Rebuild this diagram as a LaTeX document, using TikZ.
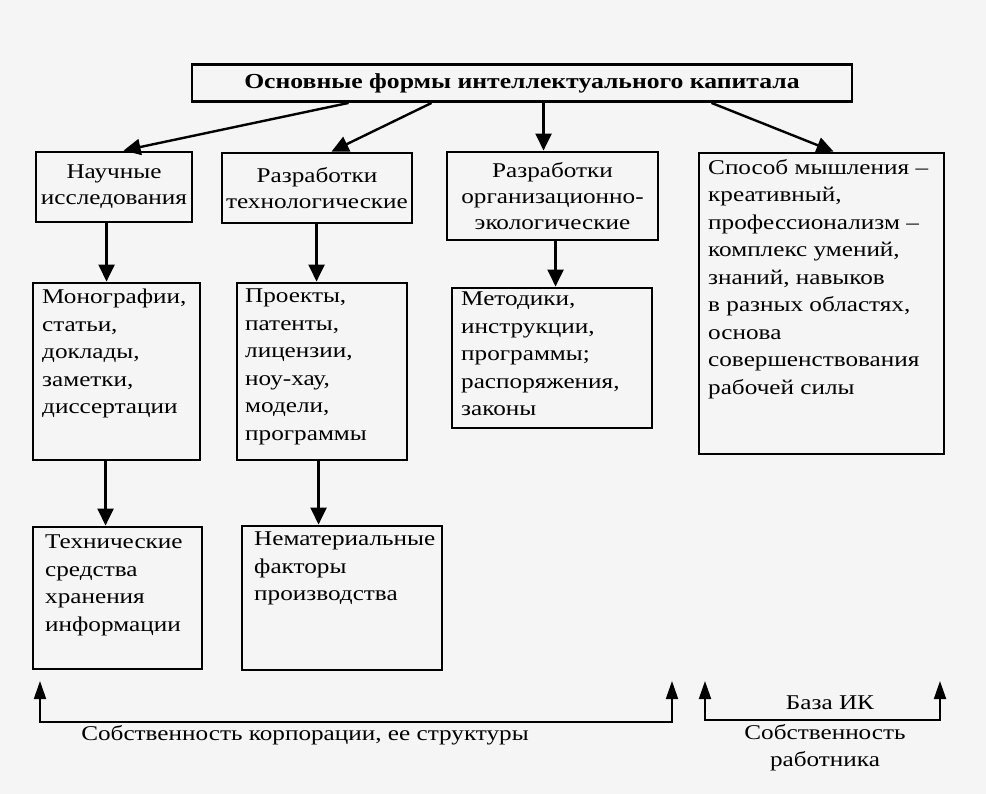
\documentclass[tikz,border=0pt]{standalone}
\usepackage{fontspec}
\setmainfont{Liberation Serif}[FakeStretch=1.2]
\usetikzlibrary{arrows.meta}
\definecolor{bg}{RGB}{245,245,245}
\begin{document}
\begin{tikzpicture}[x=1pt,y=-1pt,
  box/.style={draw, line width=2.9pt, inner sep=0pt, fill=bg},
  ctxt/.style={align=center, font=\fontsize{21}{26}\selectfont},
  txt/.style={inner sep=0pt, anchor=north west, align=left, font=\fontsize{21}{27.5}\selectfont},
  arr/.style={line width=2.4pt, -{Triangle[length=17pt,width=16pt]}},
  brk/.style={line width=1.9pt, {Triangle[length=18pt,width=12pt]}-{Triangle[length=18pt,width=12pt]}},
  lbl/.style={font=\fontsize{21}{27}\selectfont, inner sep=0pt}
]
\fill[bg] (0,0) rectangle (986,794);
\useasboundingbox (0,0) rectangle (986,794);

% top box
\node[box, minimum width=660pt, minimum height=37pt, font=\fontsize{21.4}{25}\selectfont\bfseries] (top) at (522,83) {Основные формы интеллектуального капитала};

% first row
\node[box, minimum width=156pt, minimum height=70pt, ctxt] (nauch) at (114,187) {Научные\\исследования};
\node[box, minimum width=190pt, minimum height=70pt, ctxt] (tech) at (317,188) {Разработки\\технологические};
\node[box, minimum width=211pt, minimum height=88pt, ctxt] (org) at (552.5,196) {Разработки\\организационно-\\экологические};
\node[box, minimum width=245pt, minimum height=301pt] (think) at (821.5,303.5) {};
\node[txt] (thinkt) at (708,159) {Способ мышления –\\креативный,\\профессионализм –\\комплекс умений,\\знаний, навыков\\в разных областях,\\основа\\совершенствования\\рабочей силы};

% second row
\node[box, minimum width=167pt, minimum height=177pt] (mono) at (116.5,371.5) {};
\node[txt] (monot) at (42,289) {Монографии,\\статьи,\\доклады,\\заметки,\\диссертации};
\node[box, minimum width=170pt, minimum height=177pt] (proj) at (322,371.5) {};
\node[txt] (projt) at (245,289) {Проекты,\\патенты,\\лицензии,\\ноу-хау,\\модели,\\программы};
\node[box, minimum width=200pt, minimum height=140pt] (metod) at (552,358) {};
\node[txt] (metodt) at (461,292) {Методики,\\инструкции,\\программы;\\распоряжения,\\законы};

% third row
\node[box, minimum width=169pt, minimum height=142pt] (tekh) at (117.5,598) {};
\node[txt] (tekht) at (45,535) {Технические\\средства\\хранения\\информации};
\node[box, minimum width=200pt, minimum height=144pt] (nemat) at (342,598) {};
\node[txt] (nematt) at (254,532) {Нематериальные\\факторы\\производства};

% arrows from top
\draw[arr] ([xshift=158pt]top.south west) -- ([xshift=89pt]nauch.north west);
\draw[arr] ([xshift=241pt]top.south west) -- ([xshift=111pt]tech.north west);
\draw[arr] ([xshift=353pt]top.south west) -- ([xshift=98pt]org.north west);
\draw[arr] ([xshift=521pt]top.south west) -- ([xshift=136pt]think.north west);

% vertical arrows
\draw[arr] ([xshift=72pt]nauch.south west) -- ([xshift=75pt]mono.north west);
\draw[arr] ([xshift=96pt]tech.south west) -- ([xshift=81pt]proj.north west);
\draw[arr] ([xshift=110pt]org.south west) -- ([xshift=105pt]metod.north west);
\draw[arr] ([xshift=74pt]mono.south west) -- ([xshift=74pt]tekh.north west);
\draw[arr] ([xshift=83pt]proj.south west) -- ([xshift=78pt]nemat.north west);

% bottom brackets
\coordinate (b1) at (40,681);
\coordinate (b2) at (672,681);
\coordinate (b3) at (705,681);
\coordinate (b4) at (940,681);
\draw[brk] (b1) -- (40,722) -- (672,722) -- (b2);
\draw[brk] (b3) -- (705,720) -- (940,720) -- (b4);

\node[lbl] (corp) at (305,735) {Собственность корпорации, ее структуры};
\node[lbl] (base) at (830,703) {База ИК};
\node[lbl, align=center, font=\fontsize{21}{27}\selectfont] (work) at (825,748) {Собственность\\работника};
\end{tikzpicture}
\end{document}
